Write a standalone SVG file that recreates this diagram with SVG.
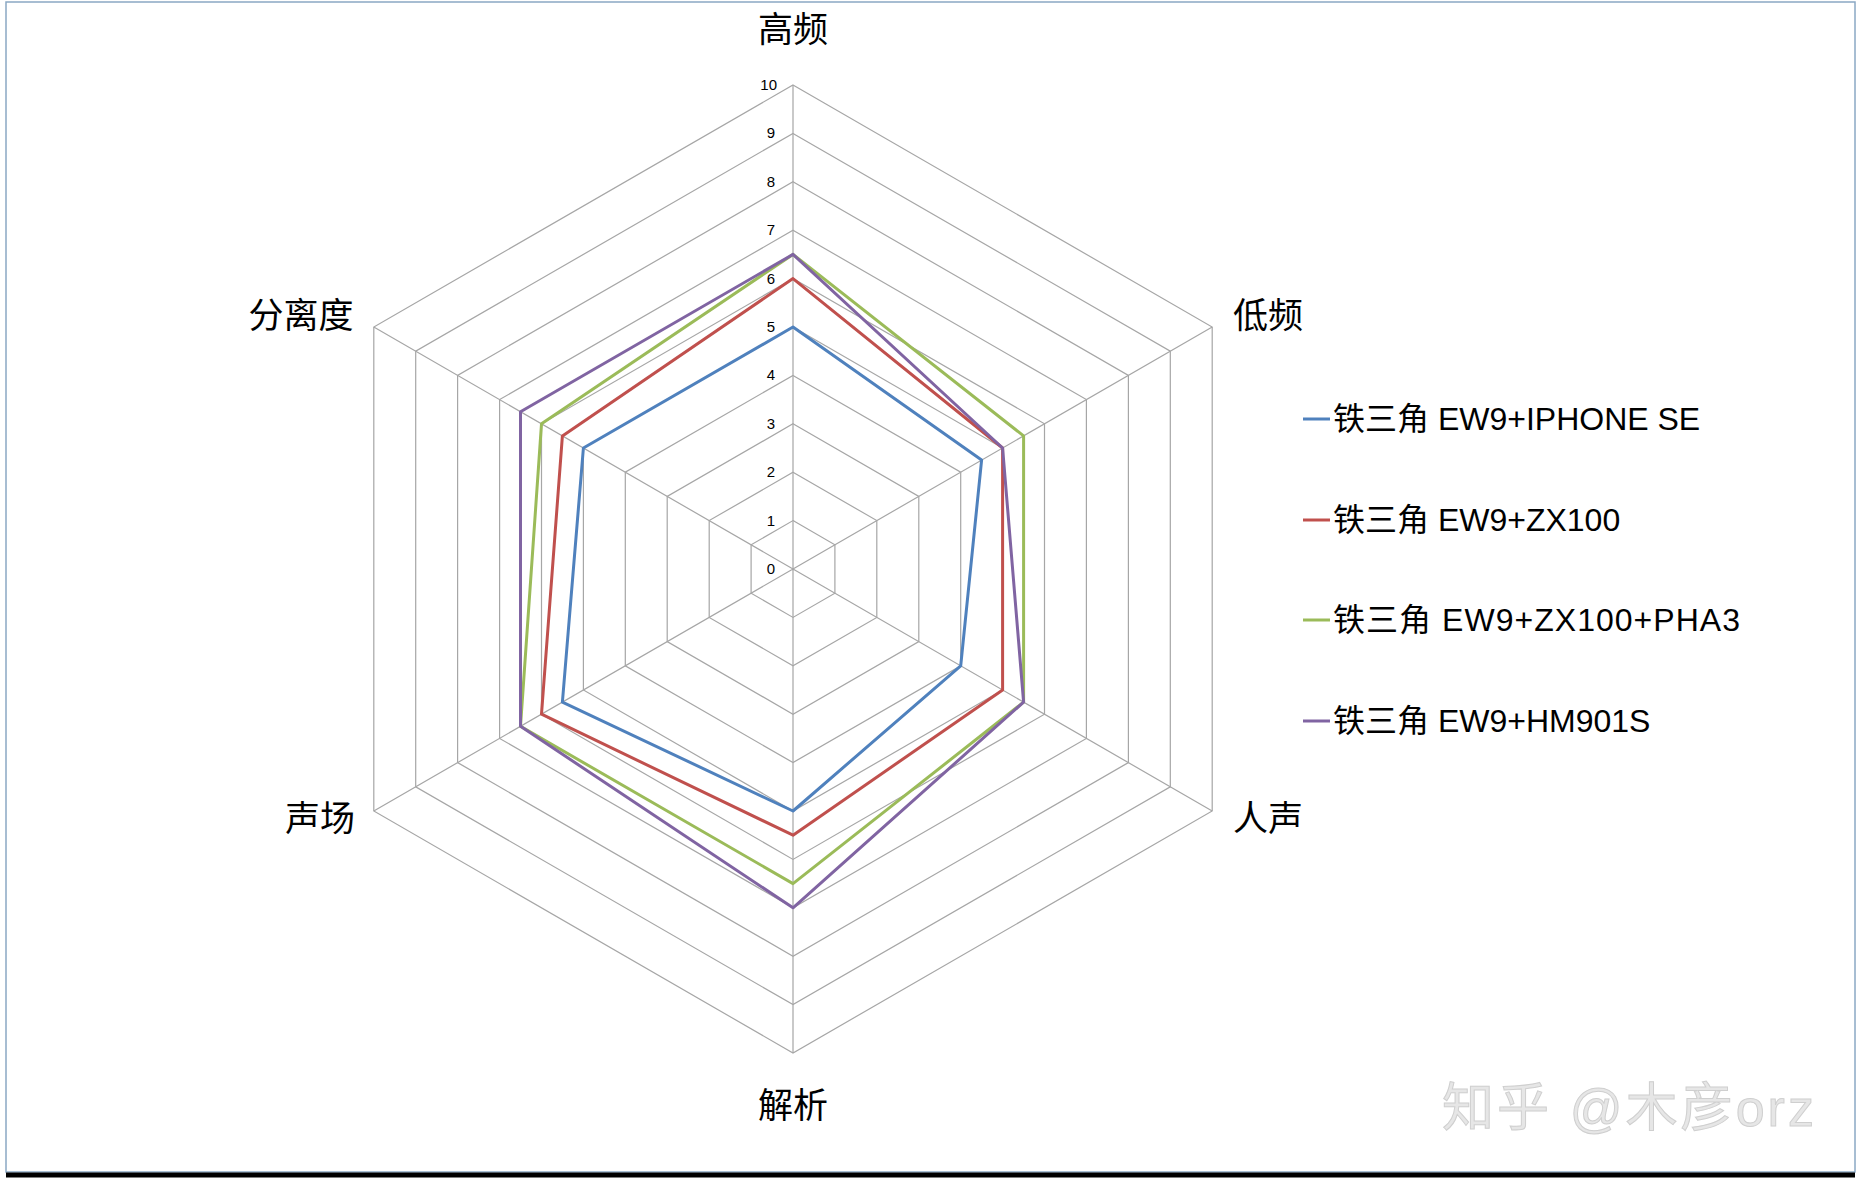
<svg xmlns="http://www.w3.org/2000/svg" width="1861" height="1181" viewBox="0 0 1861 1181">
<style>
.g{fill:none;stroke:#a6a6a6;stroke-width:1.2}
.s{fill:none;stroke-width:3;stroke-linejoin:round}
.t{font-family:"Liberation Sans","Noto Sans CJK SC",sans-serif;fill:#000}
.k{font-size:15px;text-anchor:end}
.a{font-size:35px;text-anchor:middle}
.l{font-size:32px}
</style>
<rect x="0" y="0" width="1861" height="1181" fill="#fff"/>
<rect x="6" y="2" width="1849" height="1170" fill="none" stroke="#8aa8c4" stroke-width="1.5"/>
<line x1="6" y1="1175" x2="1855" y2="1175" stroke="#000" stroke-width="5"/>
<g id="grid" transform="translate(793,569)">
<polygon class="g" points="0,-48.4 41.9,-24.2 41.9,24.2 0,48.4 -41.9,24.2 -41.9,-24.2"/>
<polygon class="g" points="0,-96.8 83.8,-48.4 83.8,48.4 0,96.8 -83.8,48.4 -83.8,-48.4"/>
<polygon class="g" points="0,-145.2 125.8,-72.6 125.8,72.6 0,145.2 -125.8,72.6 -125.8,-72.6"/>
<polygon class="g" points="0,-193.6 167.7,-96.8 167.7,96.8 0,193.6 -167.7,96.8 -167.7,-96.8"/>
<polygon class="g" points="0,-242 209.6,-121 209.6,121 0,242 -209.6,121 -209.6,-121"/>
<polygon class="g" points="0,-290.4 251.5,-145.2 251.5,145.2 0,290.4 -251.5,145.2 -251.5,-145.2"/>
<polygon class="g" points="0,-338.8 293.4,-169.4 293.4,169.4 0,338.8 -293.4,169.4 -293.4,-169.4"/>
<polygon class="g" points="0,-387.2 335.4,-193.6 335.4,193.6 0,387.2 -335.4,193.6 -335.4,-193.6"/>
<polygon class="g" points="0,-435.6 377.3,-217.8 377.3,217.8 0,435.6 -377.3,217.8 -377.3,-217.8"/>
<polygon class="g" points="0,-484 419.2,-242 419.2,242 0,484 -419.2,242 -419.2,-242"/>
<path class="g" d="M0,0V-484M0,0L419.2,-242M0,0L419.2,242M0,0V484M0,0L-419.2,242M0,0L-419.2,-242"/>
</g>
<g id="ticks" class="t k">
<text x="775" y="574">0</text><text x="775" y="526">1</text><text x="775" y="477">2</text><text x="775" y="429">3</text><text x="775" y="380">4</text><text x="775" y="332">5</text><text x="775" y="284">6</text><text x="775" y="235">7</text><text x="775" y="187">8</text><text x="775" y="138">9</text><text x="777" y="90">10</text>
</g>
<g id="axis-labels" class="t a">
<text x="793" y="42">高频</text>
<text x="1268" y="328">低频</text>
<text x="1268" y="831">人声</text>
<text x="793" y="1118">解析</text>
<text x="320" y="831">声场</text>
<text x="301" y="328">分离度</text>
</g>
<g id="series">
<polygon class="s" stroke="#4f81bd" points="793,327 981.6,460.1 960.7,665.8 793,811 562.4,702.1 583.4,448"/>
<polygon class="s" stroke="#c0504d" points="793,278.6 1002.6,448 1002.6,690 793,835.2 541.5,714.2 562.4,435.9"/>
<polygon class="s" stroke="#9bbb59" points="793,254.4 1023.6,435.9 1023.6,702.1 793,883.6 520.5,726.3 541.5,423.8"/>
<polygon class="s" stroke="#8064a2" points="793,254.4 1002.6,448 1023.6,702.1 793,907.8 520.5,726.3 520.5,411.7"/>
</g>
<g id="legend" class="t l">
<line x1="1303" y1="419" x2="1330" y2="419" stroke="#4f81bd" stroke-width="3"/><text x="1333" y="430">铁三角 EW9+IPHONE SE</text>
<line x1="1303" y1="520" x2="1330" y2="520" stroke="#c0504d" stroke-width="3"/><text x="1333" y="531">铁三角 EW9+ZX100</text>
<line x1="1303" y1="620" x2="1330" y2="620" stroke="#9bbb59" stroke-width="3"/><text x="1333" y="631" textLength="407">铁三角 EW9+ZX100+PHA3</text>
<line x1="1303" y1="721" x2="1330" y2="721" stroke="#8064a2" stroke-width="3"/><text x="1333" y="732">铁三角 EW9+HM901S</text>
</g>
<text x="1442" y="1126" font-family="Liberation Sans,Noto Sans CJK SC,sans-serif" font-size="52" fill="#e6e6e6" stroke="#cfcfcf" stroke-width="1" textLength="372">知乎 @木彦orz</text>
</svg>
